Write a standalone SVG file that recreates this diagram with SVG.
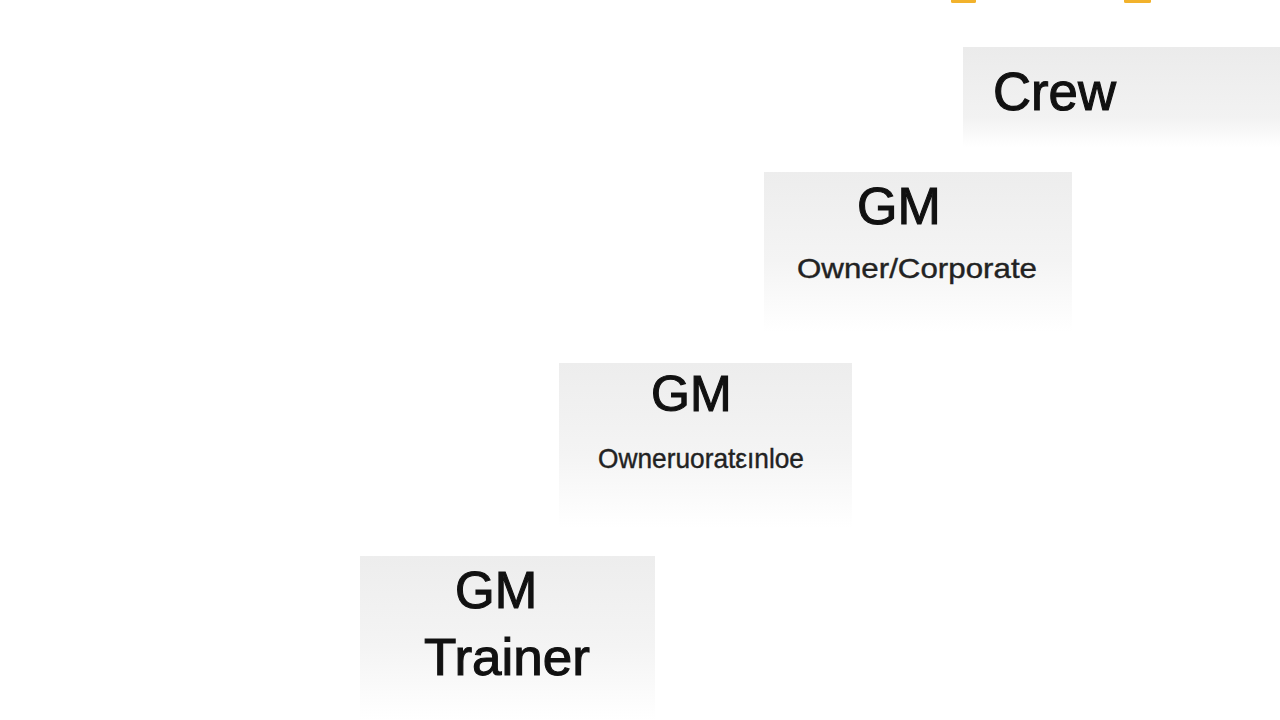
<svg xmlns="http://www.w3.org/2000/svg" width="1280" height="720" viewBox="0 0 1280 720">
  <defs>
    <linearGradient id="boxFill" x1="0" y1="0" x2="0" y2="1">
      <stop offset="0" stop-color="#ededed"/>
      <stop offset="0.55" stop-color="#f4f4f4"/>
      <stop offset="1" stop-color="#ffffff"/>
    </linearGradient>
    <linearGradient id="crewFill" x1="0" y1="0" x2="0" y2="1">
      <stop offset="0" stop-color="#ebebeb"/>
      <stop offset="0.7" stop-color="#f2f2f2"/>
      <stop offset="1" stop-color="#ffffff"/>
    </linearGradient>
  </defs>
  <style>
    .title { font-family: "Liberation Sans", Arial, sans-serif; fill: #111111; stroke: #111111; stroke-width: 1.1; }
    .sub { font-family: "Liberation Sans", Arial, sans-serif; fill: #222222; stroke: #222222; stroke-width: 0.4; }
    .accent { fill: #f2b22c; }
  </style>
  <rect width="1280" height="720" fill="#ffffff"/>

  <g id="accents">
    <rect class="accent" x="951" y="-3" width="25" height="6" rx="1.5"/>
    <rect class="accent" x="1124" y="-3" width="27" height="6" rx="1.5"/>
  </g>

  <g id="connectors"></g>

  <g id="node-crew">
    <rect x="963" y="47" width="317" height="100" fill="url(#crewFill)"/>
    <text class="title" x="993" y="110" font-size="53" textLength="123" lengthAdjust="spacingAndGlyphs">Crew</text>
  </g>

  <g id="node-gm-owner-corporate">
    <rect x="764" y="172" width="308" height="160" fill="url(#boxFill)"/>
    <text class="title" x="857" y="224" font-size="52">GM</text>
    <text class="sub" x="797" y="278" font-size="28" textLength="240" lengthAdjust="spacingAndGlyphs">Owner/Corporate</text>
  </g>

  <g id="node-gm-owner-garbled">
    <rect x="559" y="363" width="293" height="165" fill="url(#boxFill)"/>
    <text class="title" x="651" y="411" font-size="50">GM</text>
    <text class="sub" x="598" y="468" font-size="28" textLength="206" lengthAdjust="spacingAndGlyphs">Owneruoratεınloe</text>
  </g>

  <g id="node-gm-trainer">
    <rect x="360" y="556" width="295" height="164" fill="url(#boxFill)"/>
    <text class="title" x="455" y="608" font-size="51">GM</text>
    <text class="title" x="424" y="675" font-size="52" textLength="166" lengthAdjust="spacingAndGlyphs">Trainer</text>
  </g>
</svg>
